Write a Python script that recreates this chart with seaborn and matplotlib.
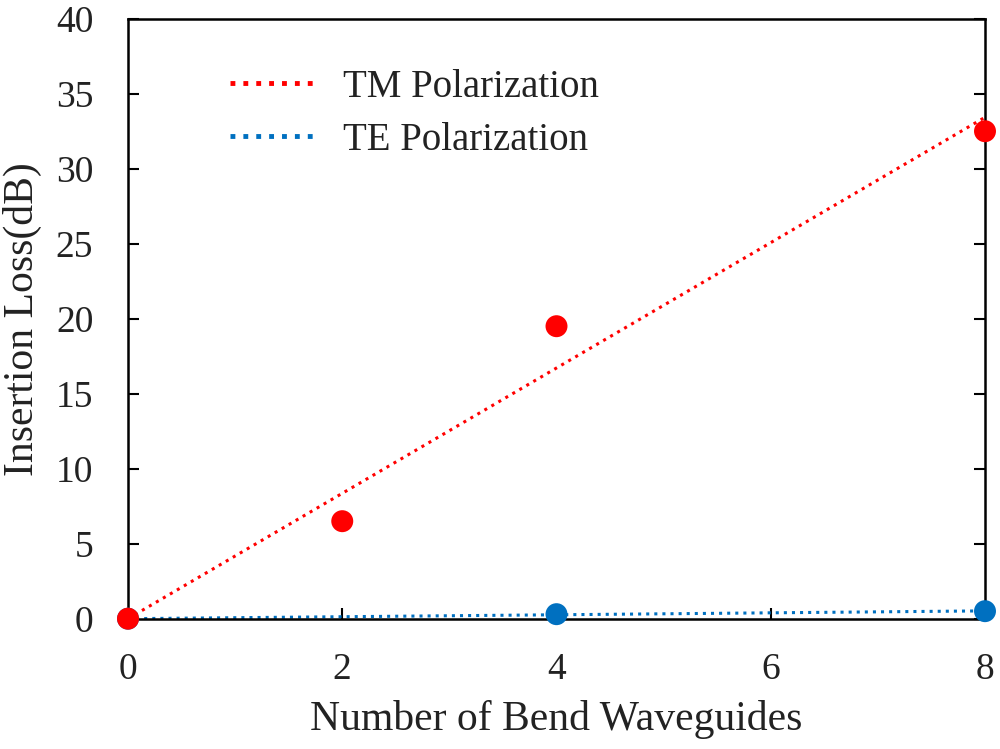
import numpy as np
import matplotlib
matplotlib.use("Agg")
import matplotlib.pyplot as plt
import seaborn as sns

# data
bends = [0, 2, 4, 8]
tm_loss = [0, 6.5, 19.5, 32.5]
te_bends = [0, 4, 8]
te_loss = [0, 0.3, 0.5]

red = "#FF0000"
blue = "#0070C0"

sns.set_theme(style="ticks")
plt.rcParams['font.family'] = ['Liberation Serif', 'DejaVu Serif']

# linear trendlines forced through the origin (like the Excel trendline)
def origin_fit(x, y):
    x = np.asarray(x, float)
    y = np.asarray(y, float)
    slope = np.linalg.lstsq(x[:, None], y, rcond=None)[0][0]
    xs = np.array([0, 8.0])
    return xs, slope * xs

fig = plt.figure(figsize=(10, 7.49), dpi=100)
ax = fig.add_axes([0.128, 0.174, 0.857, 0.801])

xs, ys = origin_fit(bends, tm_loss)
sns.lineplot(x=xs, y=ys, ax=ax, color=red, linestyle=":", linewidth=2.2, label="TM Polarization")
xs, ys = origin_fit(te_bends, te_loss)
sns.lineplot(x=xs, y=ys, ax=ax, color=blue, linestyle=":", linewidth=2.2, label="TE Polarization")

sns.scatterplot(x=te_bends, y=te_loss, ax=ax, color=blue, s=250, edgecolor="none", zorder=5, clip_on=False)
sns.scatterplot(x=bends, y=tm_loss, ax=ax, color=red, s=250, edgecolor="none", zorder=6, clip_on=False)

ax.set_xlim(0, 8)
ax.set_ylim(0, 40)
ax.set_xticks([0, 2, 4, 6, 8])
ax.set_yticks(range(0, 45, 5))
ax.tick_params(direction="in", length=8, width=1.5, labelsize=27, right=True, colors="black",
               labelcolor="#222222")
ax.tick_params(axis="x", pad=24)
ax.tick_params(axis="y", pad=25)
for sp in ax.spines.values():
    sp.set_linewidth(1.8)
    sp.set_color("black")

ax.set_xlabel("Number of Bend Waveguides", fontsize=30, color="#222222", labelpad=10)
ax.set_ylabel("Insertion Loss(dB)", fontsize=30, color="#222222", labelpad=10)

leg = ax.legend(loc="upper left", bbox_to_anchor=(0.078, 0.975), frameon=False, fontsize=28,
                handlelength=2.2, handletextpad=0.7, labelspacing=0.42)
for line in leg.get_lines():
    line.set_linewidth(3.5)
for t in leg.get_texts():
    t.set_color("#222222")

fig.savefig("out.png", dpi=100)
